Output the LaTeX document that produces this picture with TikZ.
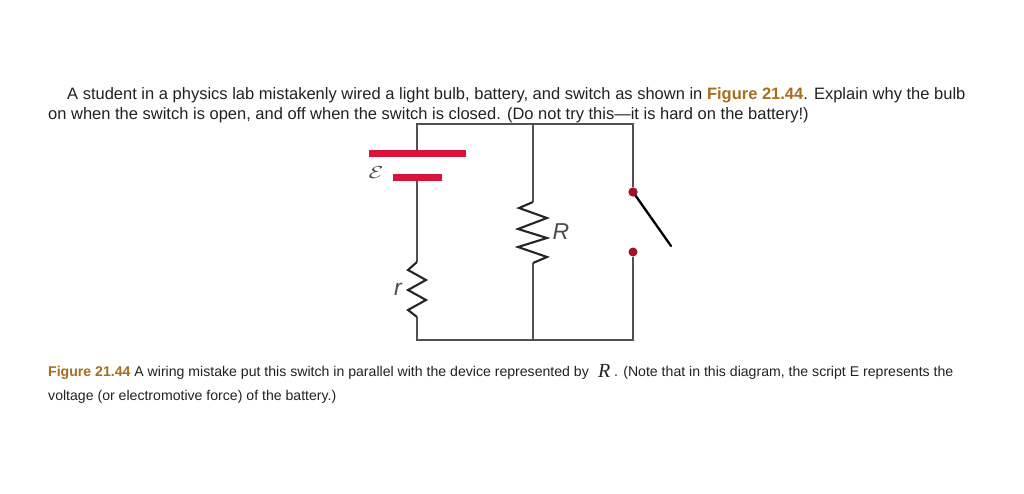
\documentclass[tikz,border=0pt]{standalone}
\usepackage{fontspec}
\setmainfont{Liberation Sans}
\newfontfamily\serifx{Liberation Serif}
\definecolor{wire}{HTML}{505050}
\definecolor{plate}{HTML}{D9123A}
\definecolor{dotc}{HTML}{A5102A}
\definecolor{figc}{HTML}{A86C1E}
\definecolor{txt}{HTML}{222222}
\tikzset{
  wire/.style={draw=wire,line width=2.1pt},
  plate/.style={draw=plate,line width=7pt},
  zig/.style={draw=black!85,line width=2.1pt,line join=miter},
  blade/.style={draw=black,line width=2.3pt,line cap=round},
  term/.style={circle,fill=dotc,inner sep=0pt,minimum size=9pt},
  lab/.style={inner sep=0pt,anchor=base west,text=txt},
  big/.style={lab,font=\fontsize{16.5}{18}\selectfont},
  small/.style={lab,font=\fontsize{14.1}{15}\selectfont},
  sym/.style={inner sep=0pt,text=black!70}
}
\begin{document}
\begin{tikzpicture}[x=1pt,y=-1pt]
\useasboundingbox (0,0) rectangle (1024,494);
\fill[white] (0,0) rectangle (1024,494);
% text
\node[big] (t1) at (67,99.5) {A student in a physics lab mistakenly wired a light bulb, battery, and switch as shown in \textcolor{figc}{\textbf{Figure 21.44}}. Explain why the bulb};
\node[big] (t2) at (48,120) {on when the switch is open, and off when the switch is closed. (Do not try this—it is hard on the battery!)};
\node[small] (c1) at (48,376.5) {\textcolor{figc}{\textbf{Figure 21.44}} A wiring mistake put this switch in parallel with the device represented by};
\node[lab,font=\serifx\itshape\fontsize{20}{20}\selectfont] (cR) at (598,377) {R};
\node[small] (c2) at (614,376.5) {. (Note that in this diagram, the script E represents the};
\node[small] (c3) at (48,400.5) {voltage (or electromotive force) of the battery.)};
% junctions
\coordinate (tl) at (417,124);
\coordinate (tm) at (533,124);
\coordinate (tr) at (633,124);
\coordinate (bl) at (417,340);
\coordinate (bm) at (533,340);
\coordinate (br) at (633,340);
\coordinate (p1) at (417,154);
\coordinate (p1a) at (369,154);
\coordinate (p1b) at (466,154);
\coordinate (p2) at (417,178);
\coordinate (p2a) at (393,178);
\coordinate (p2b) at (442,178);
\coordinate (rt) at (417,262);
\coordinate (rb) at (417,317);
\coordinate (Rt) at (533,202);
\coordinate (Rb) at (533,263);
\coordinate (bladeEnd) at (671,246);
\node[term] (s1) at (633,192) {};
\node[term] (s2) at (633,252) {};
% wires
\draw[wire] (p1) -- (tl) -- (tr) -- (s1);
\draw[wire] (tm) -- (Rt);
\draw[wire] (p2) -- (rt);
\draw[wire] (rb) -- (bl) -- (br) -- (s2);
\draw[wire] (Rb) -- (bm);
% plates
\draw[plate] (p1a) -- (p1b);
\draw[plate] (p2a) -- (p2b);
% resistors
\draw[zig] (rt) -- (408,270) -- (426,280) -- (408,290) -- (426,300) -- (408,310) -- (rb);
\draw[zig] (Rt) -- (519,208) -- (547,218) -- (518,229) -- (547,238) -- (518,247) -- (547,257) -- (Rb);
% switch
\draw[blade] (s1.center) -- (bladeEnd);
\node[term] at (s1) {};
% labels
\node[sym,font=\itshape\fontsize{23}{24}\selectfont] (Rl) at (561,232) {R};
\node[sym,font=\itshape\fontsize{23}{24}\selectfont] (rl) at (398,289) {r};
\node[sym,xscale=1.4,font=\fontsize{18}{18}\selectfont] (El) at (376,173) {$\mathcal{E}$};
\end{tikzpicture}
\end{document}
